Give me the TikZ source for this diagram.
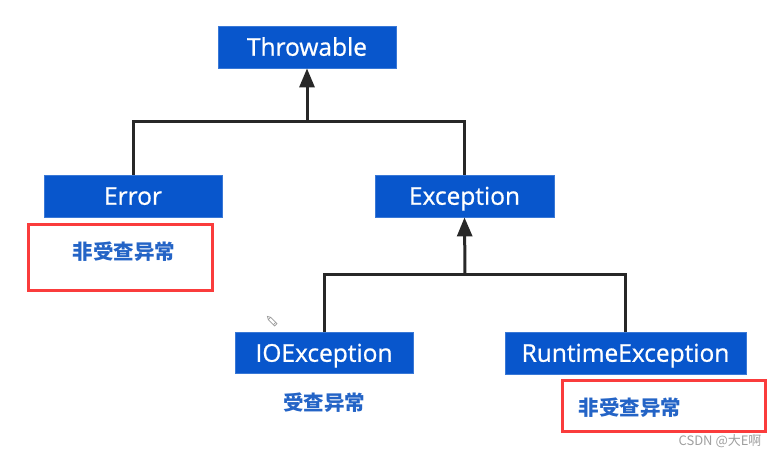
\documentclass[tikz,border=0pt]{standalone}
\usepackage{fontspec}
\setmainfont{Open Sans}[FakeBold=0.8]
\newfontfamily\cjk{Noto Sans CJK SC}
\usetikzlibrary{arrows.meta}
\definecolor{boxblue}{RGB}{8,86,204}
\definecolor{textblue}{RGB}{36,100,198}
\definecolor{linegray}{RGB}{40,40,40}
\definecolor{hlred}{RGB}{250,60,60}
\tikzset{
  x=1pt, y=-1pt,
  cls/.style={draw=boxblue!80!white, line width=0.8pt, fill=boxblue, text=white, inner sep=0pt,
    minimum height=42pt, text height=17.5pt, text depth=0pt,
    font=\fontsize{24.5}{24.5}\selectfont},
  tag/.style={text=textblue, font=\cjk\bfseries\fontsize{20.5}{20.5}\selectfont, inner sep=0pt},
  hlbox/.style={draw=hlred, line width=3pt, inner sep=0pt},
  conn/.style={draw=linegray, line width=3pt},
  inherit/.style={conn, -{Triangle[length=19pt,width=15pt]}},
}
\begin{document}
\begin{tikzpicture}
\useasboundingbox (0,0) rectangle (779,457);
% class boxes
\node[cls, minimum width=178pt] (thr) at (307,47) {Throwable};
\node[cls, minimum width=178pt] (err) at (133,196) {Error};
\node[cls, minimum width=179pt] (exc) at (464.5,196) {Exception};
\node[cls, minimum width=178pt, minimum height=41pt] (ioe) at (324,353) {IOException};
\node[cls, minimum width=241pt] (rte) at (625.5,353) {RuntimeException};
% highlight boxes and labels
\node[hlbox, minimum width=184pt, minimum height=65pt] (red1) at (120,257.5) {};
\node[tag] (lab1) at (124,252) {非受查异常};
\node[tag] (lab2) at (324,403) {受查异常};
\node[hlbox, minimum width=203pt, minimum height=51pt] (red2) at (663.5,405.5) {};
\node[tag] (lab3) at (630,408) {非受查异常};
% connectors
\coordinate (j1) at (307,122);
\coordinate (j2) at (465,274);
\draw[conn] (err.north) |- (j1) -| (exc.north);
\draw[inherit] (j1) -- (thr.south);
\draw[conn] (ioe.north) |- (j2) -| (rte.north);
\draw[inherit] (j2) -- (exc.south);
% pencil icon
\begin{scope}[shift={(273,322)}, rotate=-45, draw=gray!80, line width=0.7pt]
  \draw (-5,-1.6) -- (4,-1.6) -- (4,1.6) -- (-5,1.6) -- cycle;
  \draw (-5,-1.6) -- (-8,0) -- (-5,1.6);
  \draw (2.2,-1.6) -- (2.2,1.6);
\end{scope}
% watermark
\node[text=gray!75, font=\cjk\fontsize{13}{13}\selectfont, inner sep=0pt] (wm) at (720,441) {CSDN @大E啊};
\end{tikzpicture}
\end{document}
